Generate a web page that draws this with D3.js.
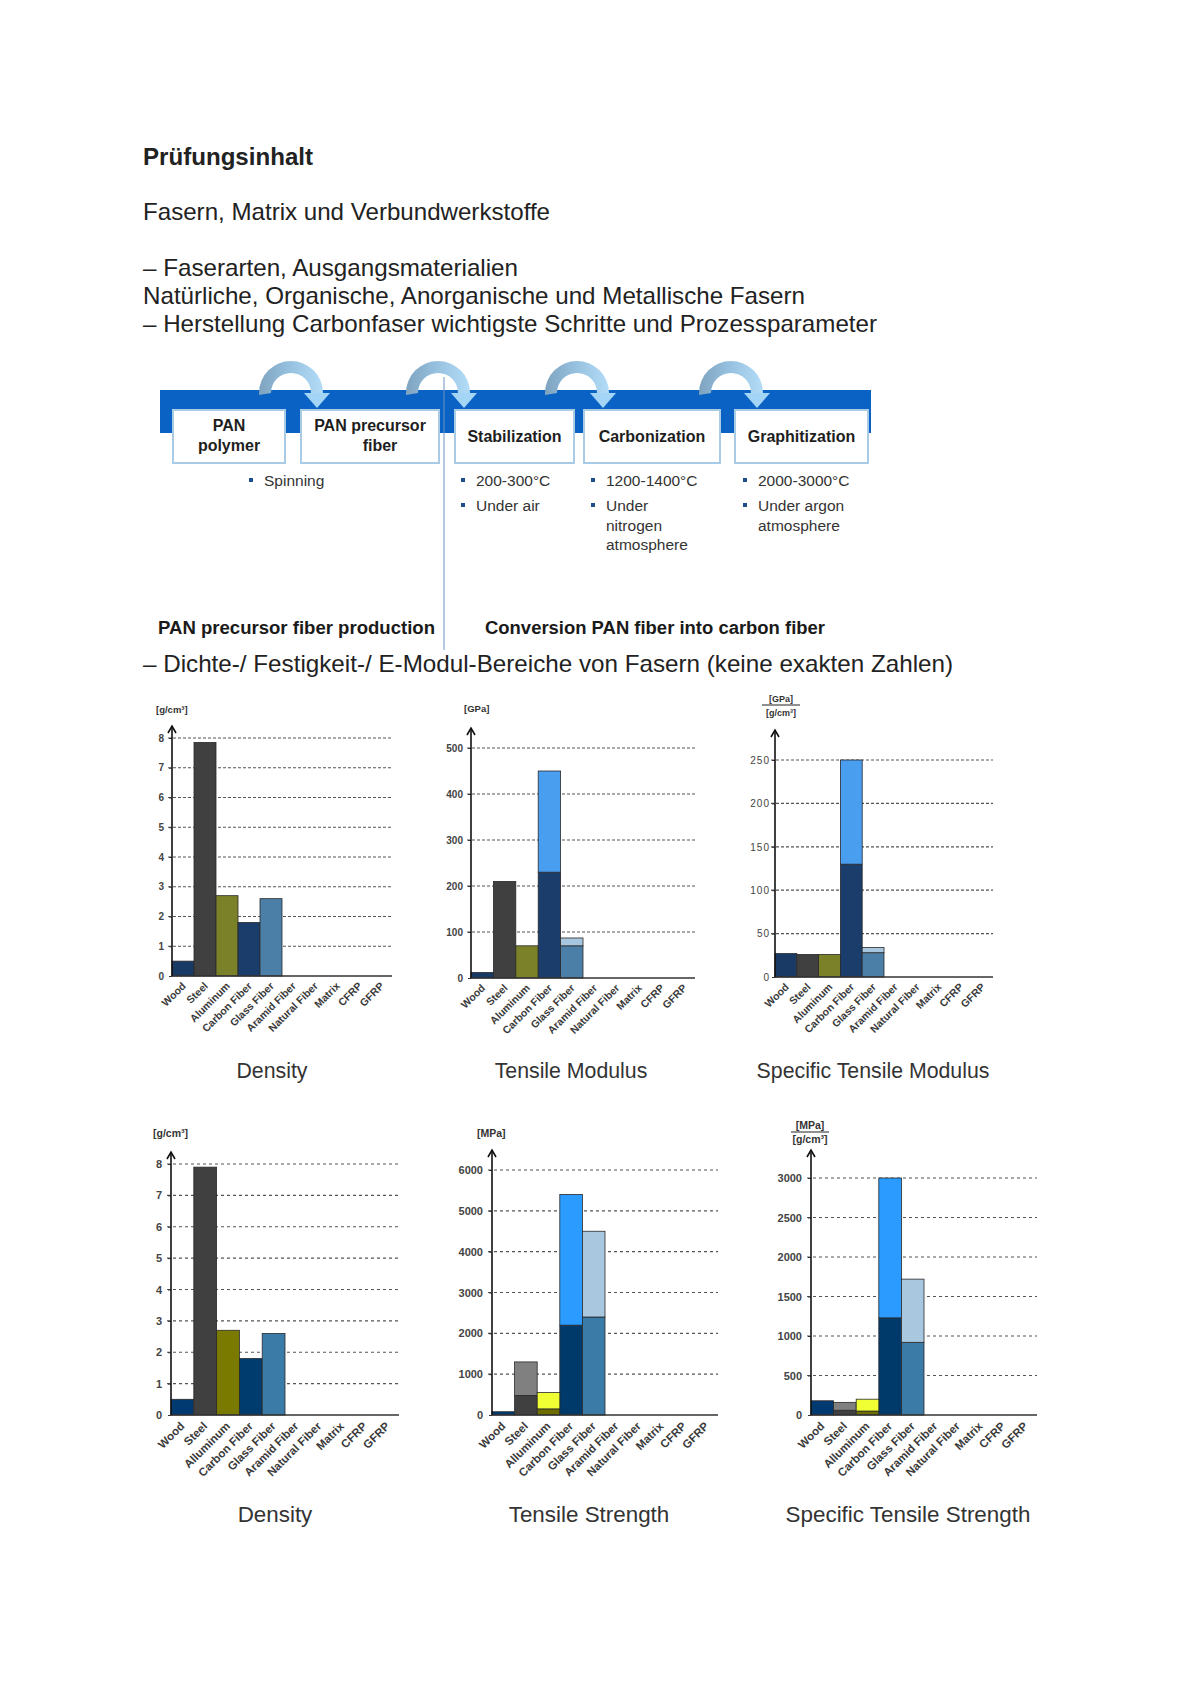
<!DOCTYPE html>
<html><head><meta charset="utf-8">
<script src="https://cdn.jsdelivr.net/npm/d3@7"></script>
<style>html,body{margin:0;padding:0;background:#fff;} svg{display:block;font-family:"Liberation Sans",Arial,sans-serif;}</style>
</head><body><svg id="c" width="1200" height="1698"></svg>
<script>
// ---------------- DATA ----------------
const categoriesTop = ["Wood","Steel","Aluminum","Carbon Fiber","Glass Fiber","Aramid Fiber","Natural Fiber","Matrix","CFRP","GFRP"];
const categoriesBottom = ["Wood","Steel","Alluminum","Carbon Fiber","Glass Fiber","Aramid Fiber","Natural Fiber","Matrix","CFRP","GFRP"];

const densityTop = [0.5, 7.85, 2.7, 1.8, 2.6];
const modulusMin = [12, 210, 70, 230, 70];
const modulusMax = [12, 210, 70, 450, 87];
const specModulusMin = [27, 26, 26, 130, 28];
const specModulusMax = [27, 26, 26, 250, 34];

const densityBottom = [0.5, 7.9, 2.7, 1.8, 2.6];
const strengthMin = [80, 480, 150, 2200, 2400];
const strengthMax = [80, 1300, 550, 5400, 4500];
const specStrengthMin = [180, 60, 50, 1230, 920];
const specStrengthMax = [180, 160, 200, 3000, 1720];

const densityTicks = [0,1,2,3,4,5,6,7,8];
const modulusTicks = [0,100,200,300,400,500];
const specModulusTicks = [0,50,100,150,200,250];
const strengthTicks = [0,1000,2000,3000,4000,5000,6000];
const specStrengthTicks = [0,500,1000,1500,2000,2500,3000];

const chartTitles = ["Density","Tensile Modulus","Specific Tensile Modulus","Density","Tensile Strength","Specific Tensile Strength"];

const headerLines = ["Prüfungsinhalt","Fasern, Matrix und Verbundwerkstoffe","– Faserarten, Ausgangsmaterialien","Natürliche, Organische, Anorganische und Metallische Fasern","– Herstellung Carbonfaser wichtigste Schritte und Prozessparameter"];
const sectionLine = "– Dichte-/ Festigkeit-/ E-Modul-Bereiche von Fasern (keine exakten Zahlen)";
const processSteps = [["PAN","polymer"],["PAN precursor","fiber"],["Stabilization"],["Carbonization"],["Graphitization"]];
const processNotes = [[["Spinning"]],[["200-300°C"],["Under air"]],[["1200-1400°C"],["Under","nitrogen","atmosphere"]],[["2000-3000°C"],["Under argon","atmosphere"]]];
const phaseLabels = ["PAN precursor fiber production","Conversion PAN fiber into carbon fiber"];

// ---------------- STYLE ----------------
const colTopLow = ["#1a3a66","#404040","#7b8128","#1b3d6b","#4b7fa8"];
const colTopHigh = ["#1a3a66","#404040","#7b8128","#4a9ef0","#a7c7e0"];
const colBotLow = ["#003a70","#404040","#6e6e00","#003a6b","#3b7ba8"];
const colBotHigh = ["#003a70","#808080","#f0ff33","#2b9bff","#a9c8e0"];
const colDensBottom = ["#003a70","#404040","#7a7a00","#003d6e","#3b7ba8"];

const svg = d3.select("#c");
svg.append("rect").attr("width",1200).attr("height",1698).attr("fill","#fff");

// ---------------- HEADER ----------------
const headerY = [165, 220, 276, 304, 332];
const headerW = [170, 407, 375, 662, 734];
svg.selectAll("text.hdr").data(headerLines).enter().append("text")
  .attr("class","hdr")
  .attr("x",143).attr("y",(d,i)=>headerY[i])
  .attr("font-size",24).attr("fill","#222")
  .attr("font-weight",(d,i)=>i===0?"bold":"normal")
  .attr("textLength",(d,i)=>headerW[i]).attr("lengthAdjust","spacingAndGlyphs")
  .text(d=>d);
svg.append("text").attr("x",143).attr("y",672).attr("font-size",24).attr("fill","#222")
  .attr("textLength",810).attr("lengthAdjust","spacingAndGlyphs").text(sectionLine);

// ---------------- PROCESS DIAGRAM ----------------
const dg = svg.append("g");
const defs = svg.append("defs");
const grad = defs.append("linearGradient").attr("id","arcGrad").attr("x1","0").attr("x2","1").attr("y1","0").attr("y2","0");
grad.append("stop").attr("offset","0%").attr("stop-color","#7ea3bf");
grad.append("stop").attr("offset","45%").attr("stop-color","#95c0dd");
grad.append("stop").attr("offset","100%").attr("stop-color","#b3dcf8");

dg.append("rect").attr("x",160).attr("y",390).attr("width",711).attr("height",43).attr("fill","#0a63c4");

// arcs
const arcCenters = [291, 438, 577, 731];
const R = 32, r = 20, acy = 393;
arcCenters.forEach(cx => {
  const p = d3.path();
  p.moveTo(cx - R, acy + 2);
  p.arc(cx, acy, R, Math.PI, 0);
  p.lineTo(cx + r, acy + 2);
  p.arc(cx, acy, r, 0, Math.PI, true);
  p.closePath();
  dg.append("path").attr("d", p.toString()).attr("fill","url(#arcGrad)");
  const ax = cx + 26;
  dg.append("path").attr("d",`M${ax-13},${acy}L${ax+13},${acy}L${ax},${acy+15}Z`).attr("fill","#a5d5f6");
});

const boxX = [[173,285],[301,439],[455,574],[584,720],[735,868]];
boxX.forEach((b,i)=>{
  dg.append("rect").attr("x",b[0]).attr("y",410).attr("width",b[1]-b[0]).attr("height",53)
    .attr("fill","#fff").attr("stroke","#a9cbe6").attr("stroke-width",2);
  const lines = processSteps[i];
  const cx = (b[0]+b[1])/2;
  lines.forEach((t,j)=>{
    const y = lines.length===1 ? 442 : 431 + j*20;
    dg.append("text").attr("x",cx + (i===1 && j===1 ? 10 : 0)).attr("y",y).attr("text-anchor","middle")
      .attr("font-size",16).attr("font-weight","bold").attr("fill","#1e1e1e").text(t);
  });
});

const noteX = [251, 463, 593, 745];
processNotes.forEach((items,i)=>{
  let y = 486;
  items.forEach(lines=>{
    dg.append("rect").attr("x",noteX[i]-2).attr("y",y-8).attr("width",4).attr("height",4).attr("fill","#1f4e8c");
    lines.forEach((t,j)=>{
      dg.append("text").attr("x",noteX[i]+13).attr("y",y).attr("font-size",15.5).attr("fill","#333").text(t);
      y += (j < lines.length-1) ? 19.5 : 25;
    });
  });
});

dg.append("line").attr("x1",444).attr("x2",444).attr("y1",377).attr("y2",650).attr("stroke","#6d93c4").attr("stroke-width",1);
dg.append("text").attr("x",158).attr("y",634).attr("font-size",18).attr("font-weight","bold").attr("fill","#1a1a1a")
  .attr("textLength",277).attr("lengthAdjust","spacingAndGlyphs").text(phaseLabels[0]);
dg.append("text").attr("x",485).attr("y",634).attr("font-size",18).attr("font-weight","bold").attr("fill","#1a1a1a")
  .attr("textLength",340).attr("lengthAdjust","spacingAndGlyphs").text(phaseLabels[1]);

// ---------------- CHARTS ----------------
function drawChart(c){
  const g = svg.append("g");
  const y = d3.scaleLinear().domain([0, c.ticks[c.ticks.length-1]]).range([c.y0, c.yMax]);
  const x = d3.scaleBand().domain(c.cats).range([c.x0, c.x1]).padding(0);
  // grid
  g.selectAll("line.grid").data(c.ticks.slice(1)).enter().append("line")
    .attr("x1",c.x0-4).attr("x2",c.x1).attr("y1",d=>y(d)).attr("y2",d=>y(d))
    .attr("stroke",c.gridColor).attr("stroke-width",1.2).attr("stroke-dasharray",c.dash);
  // bars
  const vals = c.low.map((v,i)=>({cat:c.cats[i], low:v, high:c.high[i], i}));
  g.selectAll("rect.lo").data(vals).enter().append("rect")
    .attr("x",d=>x(d.cat)).attr("width",x.bandwidth())
    .attr("y",d=>y(d.low)).attr("height",d=>y(0)-y(d.low))
    .attr("fill",d=>c.lowColors[d.i]).attr("stroke","#2a2a2a").attr("stroke-width",0.8);
  g.selectAll("rect.hi").data(vals.filter(d=>d.high>d.low)).enter().append("rect")
    .attr("x",d=>x(d.cat)).attr("width",x.bandwidth())
    .attr("y",d=>y(d.high)).attr("height",d=>y(d.low)-y(d.high))
    .attr("fill",d=>c.highColors[d.i]).attr("stroke","#2a2a2a").attr("stroke-width",0.8);
  // y axis labels
  const ya = g.append("g").attr("transform",`translate(${c.x0},0)`)
    .call(d3.axisLeft(y).tickValues(c.ticks).tickFormat(d3.format("d")).tickSize(3).tickPadding(c.tickPad));
  ya.select(".domain").remove();
  ya.selectAll("line").attr("stroke","#333");
  ya.selectAll("text").attr("font-size",c.tickFont).attr("font-weight",c.tickWeight).attr("fill","#444")
    .attr("font-family","'Liberation Sans',Arial,sans-serif").attr("letter-spacing",c.tickSpacing||0);
  // x axis
  const xa = g.append("g").attr("transform",`translate(0,${c.y0})`)
    .call(d3.axisBottom(x).tickSize(0).tickPadding(0));
  xa.select(".domain").remove();
  xa.selectAll("text").attr("font-size",c.catFont).attr("font-weight","bold").attr("fill","#3a3a3a")
    .attr("font-family","'Liberation Sans',Arial,sans-serif")
    .attr("text-anchor","end").attr("dy","0.35em")
    .attr("transform",`translate(${c.catDx},${c.catDy}) rotate(-45)`);
  g.append("line").attr("x1",c.x0).attr("x2",c.x1).attr("y1",c.y0).attr("y2",c.y0).attr("stroke","#333").attr("stroke-width",1.6);
  // y arrow axis
  g.append("line").attr("x1",c.x0).attr("x2",c.x0).attr("y1",c.y0).attr("y2",c.arrowTop).attr("stroke","#111").attr("stroke-width",1.6);
  g.append("path").attr("d",`M${c.x0-4},${c.arrowTop+7}L${c.x0},${c.arrowTop}L${c.x0+4},${c.arrowTop+7}`)
    .attr("fill","none").attr("stroke","#111").attr("stroke-width",1.6);
  // unit
  if (c.unit) {
    g.append("text").attr("x",c.unitX).attr("y",c.unitY).attr("font-size",c.unitFont).attr("font-weight","bold").attr("fill","#333").text(c.unit);
  } else {
    g.append("text").attr("x",c.fracX).attr("y",c.fracY[0]).attr("text-anchor","middle").attr("font-size",c.unitFont).attr("font-weight","bold").attr("fill","#333").text(c.frac[0]);
    g.append("line").attr("x1",c.fracX-19).attr("x2",c.fracX+19).attr("y1",c.fracY[1]).attr("y2",c.fracY[1]).attr("stroke","#222").attr("stroke-width",1.2);
    g.append("text").attr("x",c.fracX).attr("y",c.fracY[2]).attr("text-anchor","middle").attr("font-size",c.unitFont).attr("font-weight","bold").attr("fill","#333").text(c.frac[1]);
  }
  g.append("text").attr("x",c.titleX).attr("y",c.titleY).attr("text-anchor","middle")
    .attr("font-size",c.titleSize).attr("fill","#333").text(c.title);
}

const topCommon = {cats:categoriesTop, gridColor:"#555", dash:"3,2", tickFont:10, tickWeight:"bold", catFont:10.5, catDx:1, catDy:8, titleY:1078, titleSize:21.3, tickPad:5, unitFont:9.5};
const botCommon = {cats:categoriesBottom, gridColor:"#555", dash:"3,3", tickFont:11, tickWeight:"bold", catFont:11.5, catDx:0, catDy:9, titleY:1522, titleSize:22.4, tickPad:6, unitFont:10.5};

drawChart(Object.assign({}, topCommon, {low:densityTop, high:densityTop, ticks:densityTicks, x0:172, x1:392, y0:976, yMax:738, arrowTop:726,
  lowColors:colTopLow, highColors:colTopHigh, unit:"[g/cm³]", unitX:156, unitY:713, title:chartTitles[0], titleX:272}));
drawChart(Object.assign({}, topCommon, {low:modulusMin, high:modulusMax, ticks:modulusTicks, x0:471, x1:695, y0:978, yMax:748, arrowTop:728,
  lowColors:colTopLow, highColors:colTopHigh, unit:"[GPa]", unitX:464, unitY:712, title:chartTitles[1], titleX:571}));
drawChart(Object.assign({}, topCommon, {low:specModulusMin, high:specModulusMax, ticks:specModulusTicks, x0:775, x1:993, y0:977, yMax:760, arrowTop:730,
  lowColors:colTopLow, highColors:colTopHigh, tickWeight:"normal", tickSpacing:1, tickPad:2, frac:["[GPa]","[g/cm³]"], fracX:781, fracY:[702,705,716], unitFont:9,
  title:chartTitles[2], titleX:873}));

drawChart(Object.assign({}, botCommon, {low:densityBottom, high:densityBottom, ticks:densityTicks, x0:171, x1:399, y0:1415, yMax:1164, arrowTop:1152,
  lowColors:colDensBottom, highColors:colDensBottom, unit:"[g/cm³]", unitX:153, unitY:1137, title:chartTitles[3], titleX:275}));
drawChart(Object.assign({}, botCommon, {low:strengthMin, high:strengthMax, ticks:strengthTicks, x0:492, x1:718, y0:1415, yMax:1170, arrowTop:1150,
  lowColors:colBotLow, highColors:colBotHigh, unit:"[MPa]", unitX:477, unitY:1137, title:chartTitles[4], titleX:589}));
drawChart(Object.assign({}, botCommon, {low:specStrengthMin, high:specStrengthMax, ticks:specStrengthTicks, x0:811, x1:1037, y0:1415, yMax:1178, arrowTop:1150,
  lowColors:colBotLow, highColors:colBotHigh, frac:["[MPa]","[g/cm³]"], fracX:810, fracY:[1129,1132,1143],
  title:chartTitles[5], titleX:908}));
</script></body></html>
